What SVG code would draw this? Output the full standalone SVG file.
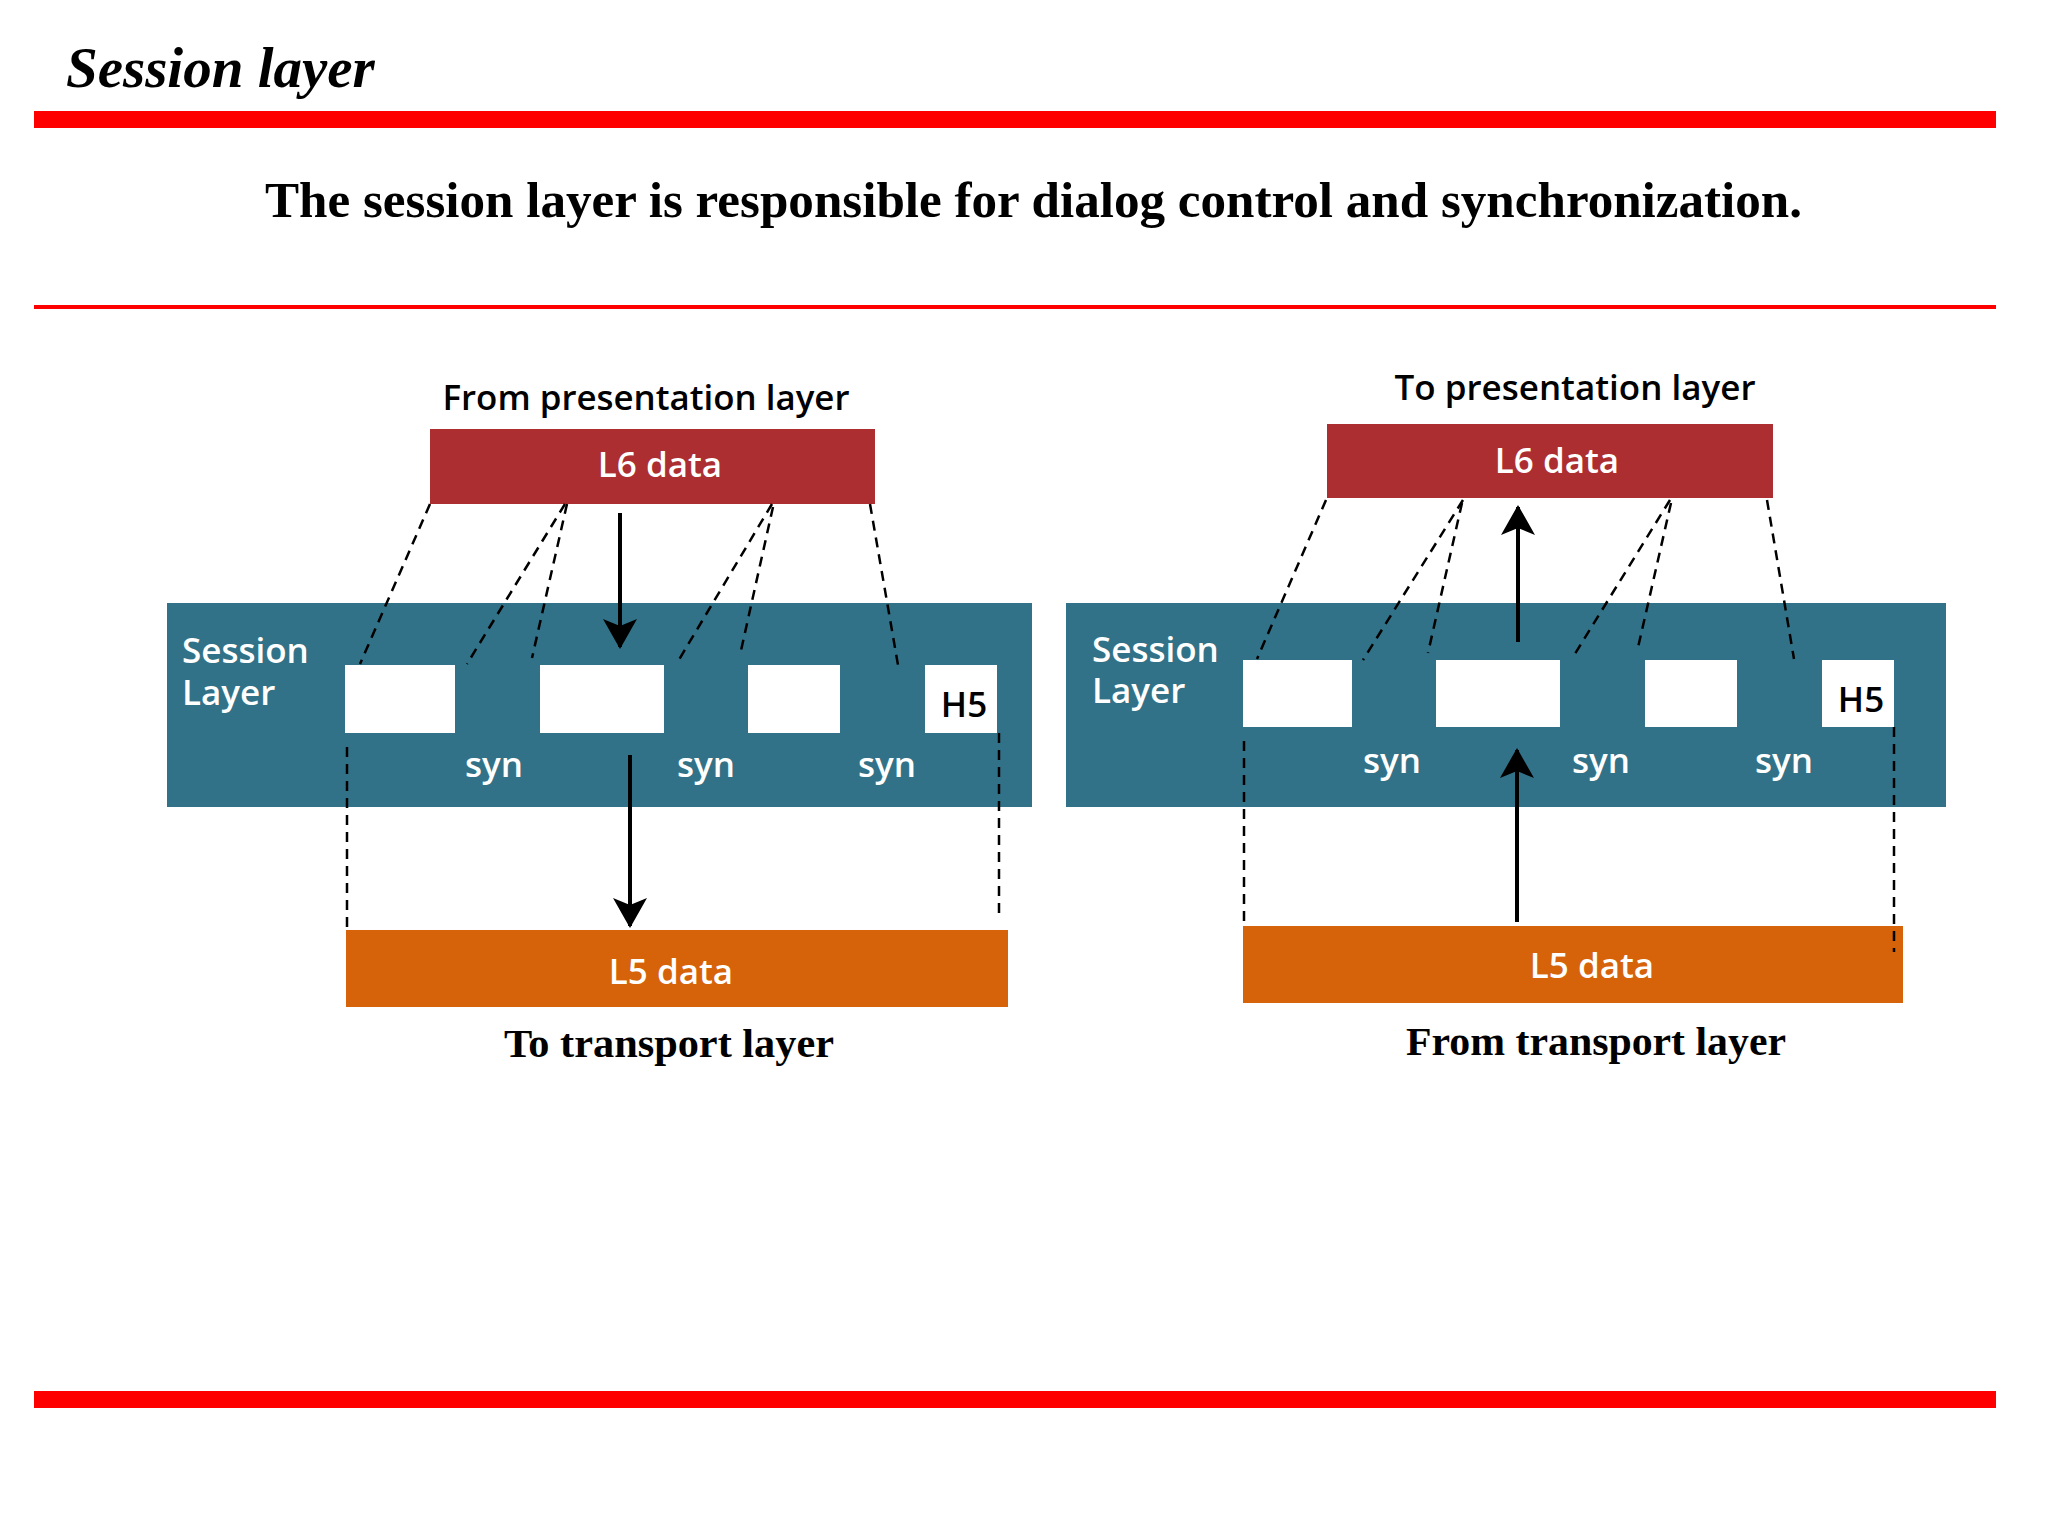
<svg xmlns="http://www.w3.org/2000/svg" width="2048" height="1536" viewBox="0 0 2048 1536">
<defs>
<style>
.bar{fill:#ff0000}
.teal{fill:#327288}
.l6{fill:#ac2e30}
.l5{fill:#d6620a}
.wbox{fill:#ffffff}
.dash{fill:none;stroke:#000;stroke-width:2.5;stroke-dasharray:10 7}
.arr{fill:none;stroke:#000;stroke-width:4}
.lab{font-family:"Open Sans","Noto Sans",sans-serif;font-weight:600;font-size:35px}
.wht{fill:#ffffff}
.blk{fill:#000000}
.cap{font-family:"Open Sans","Noto Sans",sans-serif;font-weight:600;font-size:35px;fill:#000}
.ser{font-family:"Liberation Serif","Times New Roman",serif;font-weight:bold;fill:#000}
</style>
<marker id="ah" viewBox="0 0 30 34" refX="28" refY="17" markerWidth="30" markerHeight="34" markerUnits="userSpaceOnUse" orient="auto">
<path d="M0,0 L30,17 L0,34 L7,17 Z" fill="#000"/>
</marker>
</defs>
<rect width="2048" height="1536" fill="#ffffff"/>

<g id="header">
<text x="66" y="87" class="ser" font-style="italic" font-size="57">Session layer</text>
<rect class="bar" x="34" y="111" width="1962" height="17"/>
<text x="265" y="217" class="ser" font-size="50" textLength="1537" lengthAdjust="spacingAndGlyphs">The session layer is responsible for dialog control and synchronization.</text>
<rect class="bar" x="34" y="305" width="1962" height="4"/>
<rect class="bar" x="34" y="1391" width="1962" height="17"/>
</g>

<!-- Left diagram -->
<g id="left-from-label"><text x="646" y="410" class="cap" text-anchor="middle" textLength="407" lengthAdjust="spacingAndGlyphs">From presentation layer</text></g>
<g id="left-l6">
<rect class="l6" x="430" y="429" width="445" height="75"/>
<text x="660" y="477" class="lab wht" text-anchor="middle">L6 data</text>
</g>
<g id="left-session">
<rect class="teal" x="167" y="603" width="865" height="204"/>
<text x="182" y="663" class="lab wht">Session</text>
<text x="182" y="705" class="lab wht">Layer</text>
<text x="465" y="777" class="lab wht">syn</text>
<text x="677" y="777" class="lab wht">syn</text>
<text x="858" y="777" class="lab wht">syn</text>
</g>
<g id="left-box1"><rect class="wbox" x="345" y="665" width="110" height="68"/></g>
<g id="left-box2"><rect class="wbox" x="540" y="665" width="124" height="68"/></g>
<g id="left-box3"><rect class="wbox" x="748" y="665" width="92" height="68"/></g>
<g id="left-h5"><rect class="wbox" x="925" y="665" width="72" height="68"/><text x="964" y="717" class="lab blk" text-anchor="middle">H5</text></g>
<g id="left-l5">
<rect class="l5" x="346" y="930" width="662" height="77"/>
<text x="671" y="984" class="lab wht" text-anchor="middle">L5 data</text>
</g>
<g id="left-to-label"><text x="669" y="1057" class="ser" font-size="40" text-anchor="middle" textLength="330" lengthAdjust="spacingAndGlyphs">To transport layer</text></g>

<!-- Right diagram -->
<g id="right-to-label"><text x="1575" y="400" class="cap" text-anchor="middle" textLength="361" lengthAdjust="spacingAndGlyphs">To presentation layer</text></g>
<g id="right-l6">
<rect class="l6" x="1327" y="424" width="446" height="74"/>
<text x="1557" y="473" class="lab wht" text-anchor="middle">L6 data</text>
</g>
<g id="right-session">
<rect class="teal" x="1066" y="603" width="880" height="204"/>
<text x="1092" y="662" class="lab wht">Session</text>
<text x="1092" y="703" class="lab wht">Layer</text>
<text x="1363" y="773" class="lab wht">syn</text>
<text x="1572" y="773" class="lab wht">syn</text>
<text x="1755" y="773" class="lab wht">syn</text>
</g>
<g id="right-box1"><rect class="wbox" x="1243" y="660" width="109" height="67"/></g>
<g id="right-box2"><rect class="wbox" x="1436" y="660" width="124" height="67"/></g>
<g id="right-box3"><rect class="wbox" x="1645" y="660" width="92" height="67"/></g>
<g id="right-h5"><rect class="wbox" x="1822" y="660" width="72" height="67"/><text x="1861" y="712" class="lab blk" text-anchor="middle">H5</text></g>
<g id="right-l5">
<rect class="l5" x="1243" y="926" width="660" height="77"/>
<text x="1592" y="978" class="lab wht" text-anchor="middle">L5 data</text>
</g>
<g id="right-from-label"><text x="1596" y="1055" class="ser" font-size="40" text-anchor="middle" textLength="380" lengthAdjust="spacingAndGlyphs">From transport layer</text></g>

<g id="connectors">
<line class="dash" x1="430" y1="504" x2="360" y2="664"/>
<line class="dash" x1="565" y1="504" x2="467" y2="664"/>
<line class="dash" x1="567" y1="504" x2="532" y2="658"/>
<line class="dash" x1="772" y1="504" x2="677" y2="663"/>
<line class="dash" x1="773" y1="507" x2="740" y2="655"/>
<line class="dash" x1="870" y1="504" x2="898" y2="665"/>
<line class="dash" x1="347" y1="747" x2="347" y2="930"/>
<line class="dash" x1="999" y1="733" x2="999" y2="918"/>
<line class="arr" x1="620" y1="513" x2="620" y2="647" marker-end="url(#ah)"/>
<line class="arr" x1="630" y1="755" x2="630" y2="926" marker-end="url(#ah)"/>

<line class="dash" x1="1326" y1="500" x2="1257" y2="659"/>
<line class="dash" x1="1463" y1="500" x2="1363" y2="660"/>
<line class="dash" x1="1462" y1="503" x2="1428" y2="653"/>
<line class="dash" x1="1670" y1="500" x2="1573" y2="657"/>
<line class="dash" x1="1671" y1="503" x2="1637" y2="652"/>
<line class="dash" x1="1767" y1="500" x2="1794" y2="659"/>
<line class="dash" x1="1244" y1="741" x2="1244" y2="926"/>
<line class="dash" x1="1894" y1="727" x2="1894" y2="952"/>
<line class="arr" x1="1518" y1="642" x2="1518" y2="507" marker-end="url(#ah)"/>
<line class="arr" x1="1517" y1="922" x2="1517" y2="750" marker-end="url(#ah)"/>
</g>
</svg>
